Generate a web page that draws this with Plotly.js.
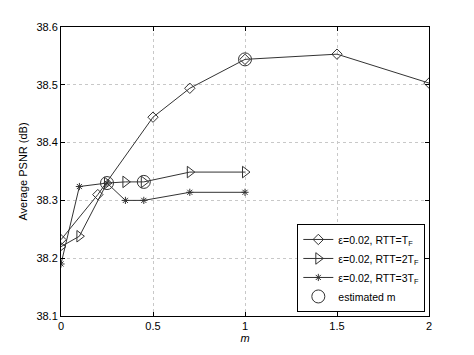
<!DOCTYPE html>
<html><head><meta charset="utf-8">
<script src="https://cdn.plot.ly/plotly-3.0.1.min.js"></script>
<style>html,body{margin:0;padding:0;background:#fff}#chart{width:474px;height:355px}</style>
</head><body><div id="chart"></div>
<script>
const xT = [0, 0.2, 0.5, 0.7, 1, 1.5, 2];
const yT = [38.232, 38.31, 38.444, 38.494, 38.544, 38.553, 38.503];
const x2T = [0, 0.1, 0.25, 0.35, 0.45, 0.7, 1];
const y2T = [38.22, 38.238, 38.33, 38.332, 38.332, 38.349, 38.349];
const x3T = [0, 0.1, 0.25, 0.35, 0.45, 0.7, 1];
const y3T = [38.19, 38.324, 38.33, 38.30, 38.30, 38.314, 38.314];
const xEst = [0.25, 0.45, 1];
const yEst = [38.33, 38.332, 38.544];
const names = ['ε=0.02, RTT=T<sub>F</sub>', 'ε=0.02, RTT=2T<sub>F</sub>', 'ε=0.02, RTT=3T<sub>F</sub>', 'estimated m'];

const lc = '#333';
const traces = [
  {x: xT, y: yT, name: names[0], mode: 'lines+markers', line: {color: lc, width: 1},
   marker: {symbol: 'diamond-open', size: 8, color: lc, line: {width: 1}}},
  {x: x2T, y: y2T, name: names[1], mode: 'lines+markers', line: {color: lc, width: 1},
   marker: {symbol: 'triangle-right-open', size: 10, color: lc, line: {width: 1}}},
  {x: x3T, y: y3T, name: names[2], mode: 'lines+markers', line: {color: lc, width: 1},
   marker: {symbol: 'asterisk-open', size: 6, color: lc, line: {width: 1, color: lc}}},
  {x: xEst, y: yEst, name: names[3], mode: 'markers',
   marker: {symbol: 'circle-open', size: 13, color: lc, line: {width: 1}}}
];

const axisCommon = {
  showline: true, linecolor: '#000', linewidth: 1, mirror: 'ticks',
  ticks: 'inside', ticklen: 4, tickcolor: '#000',
  showgrid: true, gridcolor: '#c8c8c8', griddash: 'dot', gridwidth: 1,
  zeroline: false, tickfont: {family: 'Liberation Sans, Arial', size: 11, color: '#000'}
};

const layout = {
  width: 474, height: 355,
  margin: {l: 61, r: 45, t: 27, b: 39},
  paper_bgcolor: '#fff', plot_bgcolor: '#fff',
  font: {family: 'Liberation Sans, Arial', color: '#000'},
  xaxis: Object.assign({}, axisCommon, {range: [0, 2], tickvals: [0, 0.5, 1, 1.5, 2],
    ticktext: ['0', '0.5', '1', '1.5', '2'],
    title: {text: '<i>m</i>', font: {size: 11}, standoff: 2}}),
  yaxis: Object.assign({}, axisCommon, {range: [38.1, 38.6], tickvals: [38.1, 38.2, 38.3, 38.4, 38.5, 38.6],
    ticktext: ['38.1', '38.2', '38.3', '38.4', '38.5', '38.6'],
    title: {text: 'Average PSNR (dB)', font: {size: 11}, standoff: 6}}),
  showlegend: true,
  legend: {x: 0.99, y: 0.014, xanchor: 'right', yanchor: 'bottom', bgcolor: '#fff',
    bordercolor: '#000', borderwidth: 1, font: {size: 10.5}, tracegroupgap: 0, itemwidth: 30}
};

Plotly.newPlot('chart', traces, layout, {displayModeBar: false, staticPlot: true});
</script></body></html>
